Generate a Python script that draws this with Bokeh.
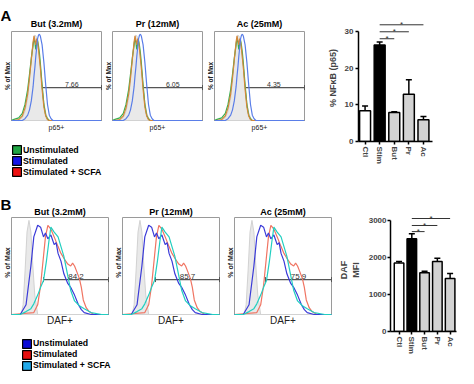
from bokeh.plotting import figure
from bokeh.layouts import row, column
from bokeh.models import (Range1d, Label, Legend, LegendItem, Whisker, TeeHead,
                          ColumnDataSource, FixedTicker, BoxAnnotation)
from bokeh.embed import file_html
from bokeh.resources import INLINE
from bokeh.core.properties import value

FONT = "Liberation Sans"
NAN = float("nan")

# ---------------- Panel A data ----------------
a_titles = ["But (3.2mM)", "Pr (12mM)", "Ac (25mM)"]
a_gate_start = [34, 34, 32]
a_gate_level = [37, 37, 37]
a_gate_pct = ["7.66", "6.05", "4.35"]
a_x = [0, 2, 8, 12, 15, 18, 20, 22, 24, 25, 26, 27, 28, 29, 30, 31, 32, 34, 36, 38, 40, 42, 44, 46, 100]
a_gray = [0, 0, 0, 3, 10, 25, 45, 70, 88, 93, 96, 95, 93, 88, 80, 70, 60, 38, 20, 9, 3, 0, 0, 0, 0]
a_unstim = [0, 1, 3, 8, 18, 35, 52, 70, 85, 92, 88, 80, 86, 90, 84, 76, 65, 40, 18, 6, 2, 0, 0, 0, 0]
a_stim = [0, 0, 0, 0, 2, 6, 12, 22, 38, 50, 60, 72, 82, 92, 96, 97, 95, 85, 65, 40, 18, 6, 2, 0, 0]
a_scfa = [0, 0, 1, 5, 14, 30, 48, 68, 88, 95, 90, 85, 92, 88, 80, 70, 60, 35, 15, 5, 1, 0, 0, 0, 0]

a_bar_cats = ["Ctl", "Stim", "But", "Pr", "Ac"]
a_bar_vals = [8.4, 26.3, 7.9, 12.9, 5.9]
a_bar_err = [1.3, 0.8, 0.2, 3.9, 0.9]
a_sig_to = ["But", "Pr", "Ac"]
a_sig_level = [28.0, 29.9, 31.8]
a_ticks = [0, 10, 20, 30]

# ---------------- Panel B data ----------------
b_titles = ["But (3.2mM)", "Pr (12mM)", "Ac (25mM)"]
b_gate_start = [33, 34, 32]
b_gate_level = [36, 36, 36]
b_gate_pct = ["84.2", "85.7", "75.9"]
b_gray_x = [0, 10, 12, 14, 16, 18, 20, 22, 24, 27, 100]
b_gray_y = [0, 0, 10, 45, 85, 97, 85, 50, 20, 0, 0]
b_unstim_x = [0, 9, 15, 20, 23, 27, 30, 33, 35, 37.5, 40.6, 44, 46, 48, 51, 54, 58, 61, 65, 69, 72, 75, 82, 100]
b_unstim_y = [0, 0, 10, 50, 80, 92, 90, 80, 84, 78, 82, 72, 74, 63, 55, 42, 32, 28, 20, 10, 5, 2, 0, 0]
b_stim_x = [0, 23, 27, 30, 33, 35, 37.5, 40.6, 44, 48, 51, 54, 58, 61, 63, 65, 67, 70, 72, 74, 77, 80, 85, 100]
b_stim_y = [0, 2, 10, 30, 60, 80, 92, 88, 80, 70, 63, 58, 52, 50, 53, 50, 45, 37, 28, 15, 7, 3, 0, 0]
b_scfa_x = [0, 9, 15, 20, 23, 27, 30, 33, 36, 38.5, 40.6, 44, 48, 51, 54, 58, 61, 65, 70, 75, 82, 93, 100]
b_scfa_y = [0, 0, 3, 6, 11, 20, 28, 35, 55, 75, 90, 85, 80, 70, 60, 40, 25, 14, 9, 6, 2, 0, 0]

b_bar_cats = ["Ctl", "Stim", "But", "Pr", "Ac"]
b_bar_vals = [1850, 2510, 1590, 1890, 1430]
b_bar_err = [40, 130, 40, 90, 140]
b_sig_to = ["But", "Pr", "Ac"]
b_sig_level = [2700, 2865, 3054]
b_ticks = [0, 1000, 2000, 3000]

legend_labels = ["Unstimulated", "Stimulated", "Stimulated + SCFA"]
a_legend_colors = ["#1fa443", "#1414e6", "#ee1111"]
b_legend_colors = ["#0a0ad6", "#e81010", "#22aaea"]
bar_colors = ["white", "black", "#d3d3d3", "#d3d3d3", "#d3d3d3"]


def no_align(p):
    if hasattr(p, "frame_align"):
        p.frame_align = False


def hist_panel(bl, fw, br, bt, fh, bb, title, xlabel, gray_x, gray_y, curves,
               gate_start, gate_y, gate_text, gate_fs, title_dy, ylab_dx, ylab_y, ylab_fs,
               xlab_y, xlab_fs, letter=None, letter_y=None, legend=None):
    sx = 100.0 / fw
    sy = 100.0 / fh
    p = figure(width=bl + fw + br, height=bt + fh + bb,
               x_range=Range1d(-bl * sx, 100 + br * sx),
               y_range=Range1d(-bb * sy, 100 + bt * sy),
               x_axis_location=None, y_axis_location=None,
               toolbar_location=None, tools="", output_backend="svg",
               min_border=0)
    no_align(p)
    p.grid.visible = False
    p.outline_line_color = None
    p.background_fill_color = "white"
    p.border_fill_color = "white"
    p.patch(gray_x, gray_y, fill_color="#e9e9e9", line_color="#d2d2d2", line_width=1)
    for cx, cy, col in curves:
        p.line(cx, cy, line_color=col, line_width=1.2)
    p.add_layout(BoxAnnotation(left=0, right=100, bottom=0, top=100, fill_alpha=0,
                               line_color="#9a9a9a", line_alpha=1, line_width=1,
                               level="underlay"))
    src = ColumnDataSource(dict(base=[gate_y], lower=[gate_start], upper=[100]))
    p.add_layout(Whisker(source=src, base="base", lower="lower", upper="upper",
                         dimension="width", line_color="#555555", line_width=1.2,
                         upper_head=TeeHead(size=5, line_color="#555555", line_width=1),
                         lower_head=TeeHead(size=5, line_color="#555555", line_width=1)))
    p.text(x=[(gate_start + 100) / 2], y=[gate_y], text=[gate_text],
           text_align="center", text_baseline="bottom", y_offset=-1,
           text_font=value(FONT), text_font_size=gate_fs, text_color="#333333")
    p.add_layout(Label(x=bl + fw / 2, y=bb + fh + title_dy, x_units="screen", y_units="screen",
                       text=title, text_align="center", text_baseline="bottom",
                       text_font=FONT, text_font_size="9px", text_font_style="bold",
                       text_color="black"))
    p.add_layout(Label(x=bl - ylab_dx, y=bb + ylab_y, x_units="screen", y_units="screen",
                       text="% of Max", angle=90, angle_units="deg",
                       text_align="center", text_baseline="middle",
                       text_font=FONT, text_font_size=ylab_fs, text_font_style="bold",
                       text_color="#222222"))
    p.add_layout(Label(x=bl + fw / 2, y=bb + xlab_y, x_units="screen", y_units="screen",
                       text=xlabel, text_align="center", text_baseline="middle",
                       text_font=FONT, text_font_size=xlab_fs, text_color="#222222"))
    if letter is not None:
        p.add_layout(Label(x=0, y=bb + letter_y, x_units="screen", y_units="screen",
                           text=letter, text_align="left", text_baseline="alphabetic",
                           text_font=FONT, text_font_size="15px", text_font_style="bold",
                           text_color="black"))
    if legend is not None:
        colors, (lx, ly), lfs = legend
        items = []
        for lab, c in zip(legend_labels, colors):
            # legend proxy: a single undefined (NaN) quad, never drawn in the plot
            r = p.quad(left=[NAN], right=[NAN], top=[NAN], bottom=[NAN], fill_color=c,
                       line_color="black", line_width=1.2)
            items.append(LegendItem(label=lab, renderers=[r]))
        leg = Legend(items=items, location=(bl + lx, bb + ly), glyph_width=11, glyph_height=11,
                     label_height=11, label_standoff=1, spacing=0, padding=0, margin=0,
                     label_text_font=FONT, label_text_font_size=lfs,
                     label_text_font_style="bold", label_text_color="black",
                     border_line_color=None, background_fill_alpha=0)
        p.add_layout(leg)
    return p


def bar_panel(bl, fw, br, bt, fh, bb, cats, vals, errs, sig_to, sig_level, ticks,
              ylabel, xr, yend, ylab_standoff, tick_standoff):
    p = figure(width=bl + fw + br, height=bt + fh + bb,
               x_range=Range1d(*xr), y_range=Range1d(0, yend),
               toolbar_location=None, tools="", output_backend="svg",
               min_border_left=bl, min_border_right=br,
               min_border_top=bt, min_border_bottom=bb)
    no_align(p)
    p.outline_line_color = None
    p.grid.visible = False
    idx = list(range(len(cats)))
    src = ColumnDataSource(dict(x=idx, top=vals,
                                upper=[v + e for v, e in zip(vals, errs)],
                                color=bar_colors))
    p.vbar(x="x", top="top", width=0.75, source=src, fill_color="color",
           line_color="black", line_width=1.5)
    p.add_layout(Whisker(source=src, base="x", lower="top", upper="upper",
                         line_color="black", line_width=1.5, level="overlay",
                         upper_head=TeeHead(size=6, line_color="black", line_width=1.5),
                         lower_head=None))
    st = cats.index("Stim")
    s_idx = [cats.index(c) for c in sig_to]
    p.segment(x0=[st] * len(s_idx), x1=s_idx, y0=sig_level, y1=sig_level,
              line_color="#333333", line_width=1)
    p.text(x=[(st + i) / 2 for i in s_idx], y=sig_level, text=["*"] * len(s_idx),
           text_align="center", text_baseline="alphabetic",
           text_font=value(FONT), text_font_size="8px", text_color="#333333")
    ya = p.yaxis[0]
    ya.ticker = FixedTicker(ticks=ticks)
    ya.bounds = (ticks[0], ticks[-1])
    ya.axis_line_width = 1.5
    ya.major_tick_line_width = 1.5
    ya.major_tick_out = 3
    ya.major_tick_in = 0
    ya.minor_tick_line_color = None
    ya.major_label_standoff = tick_standoff
    ya.major_label_text_font = FONT
    ya.major_label_text_font_size = "8px"
    ya.major_label_text_font_style = "bold"
    ya.axis_label = ylabel
    ya.axis_label_text_font = FONT
    ya.axis_label_text_font_size = "9px"
    ya.axis_label_text_font_style = "bold"
    ya.axis_label_standoff = ylab_standoff
    xa = p.xaxis[0]
    xa.ticker = FixedTicker(ticks=idx)
    xa.major_label_overrides = {i: c for i, c in zip(idx, cats)}
    xa.major_label_orientation = "vertical"
    xa.axis_line_width = 1.5
    xa.major_tick_line_width = 1.5
    xa.major_tick_out = 3
    xa.major_tick_in = 0
    xa.minor_tick_line_color = None
    xa.major_label_standoff = 2
    xa.major_label_text_font = FONT
    xa.major_label_text_font_size = "8px"
    xa.major_label_text_font_style = "bold"
    return p


# ---- Row A ----
a_curves = [(a_x, a_unstim, "#35b050"), (a_x, a_scfa, "#d4883a"), (a_x, a_stim, "#5a7ee8")]
a_dims = [(11, 90, 4), (7, 90, 5), (7, 90, 4)]
a_figs = []
for i, (bl, fw, br) in enumerate(a_dims):
    a_figs.append(hist_panel(bl, fw, br, 31, 89, 70, a_titles[i], "p65+",
                             a_x, a_gray, a_curves, a_gate_start[i], a_gate_level[i],
                             a_gate_pct[i], "7px", 3, 4, 44.5, "6.5px", -7, "7px",
                             letter="A" if i == 0 else None, letter_y=89 + 16,
                             legend=(a_legend_colors, (0, -57.25), "8.8px") if i == 0 else None))
bar_a = bar_panel(50, 74, 42, 14, 127, 49, a_bar_cats, a_bar_vals, a_bar_err,
                  a_sig_to, a_sig_level, a_ticks, "% NFκB (p65)", (-0.45, 4.62),
                  127 / 3.67, 4, 2)

# ---- Row B ----
b_curves = [(b_stim_x, b_stim_y, "#f07462"), (b_unstim_x, b_unstim_y, "#3a3ad8"),
            (b_scfa_x, b_scfa_y, "#22cfc0")]
b_dims = [(11, 97, 6), (8, 97, 7), (8, 97, 4)]
b_figs = []
for i, (bl, fw, br) in enumerate(b_dims):
    b_figs.append(hist_panel(bl, fw, br, 27, 97, 70, b_titles[i], "DAF+",
                             b_gray_x, b_gray_y, b_curves, b_gate_start[i], b_gate_level[i],
                             b_gate_pct[i], "8px", 1, 4, 52, "7px", -6, "10px",
                             letter="B" if i == 0 else None, letter_y=97 + 13.5,
                             legend=(b_legend_colors, (10, -56.75), "8.7px") if i == 0 else None))
bar_b = bar_panel(46, 75, 18, 18, 123, 53, b_bar_cats, b_bar_vals, b_bar_err,
                  b_sig_to, b_sig_level, b_ticks, "DAF\nMFI", (-0.67, 4.5),
                  123 / 0.037, 5, 1)

layout = column(row(*a_figs, bar_a), row(*b_figs, bar_b))

html = file_html(layout, INLINE, title="SCFA")
html = html.replace("</head>", "<style>html,body{margin:0;padding:0;}</style></head>", 1)
open("out.html", "w").write(html)
